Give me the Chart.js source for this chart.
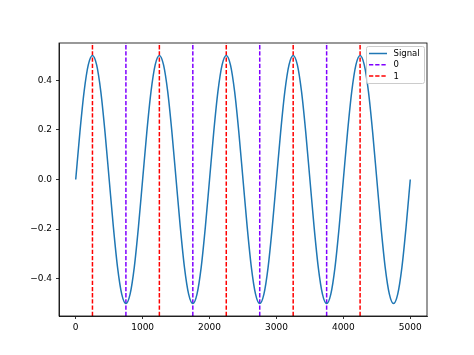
<!DOCTYPE html>
<html>
<head>
<meta charset="utf-8">
<script src="https://cdn.jsdelivr.net/npm/chart.js@4"></script>
<style>
html,body{margin:0;padding:0;background:#fff;}
#wrap{width:474px;height:355px;}
</style>
</head>
<body>
<div id="wrap"><canvas id="c" width="474" height="355"></canvas></div>
<script>
// Signal samples (x step 62.5)
const signalX = [];
for (let i = 0; i <= 80; i++) signalX.push(i * 62.5);
const signalY = [
  0, 0.191, 0.354, 0.462, 0.5, 0.462, 0.354, 0.191, 0, -0.191, -0.354, -0.462, -0.5, -0.462, -0.354, -0.191,
  0, 0.191, 0.354, 0.462, 0.5, 0.462, 0.354, 0.191, 0, -0.191, -0.354, -0.462, -0.5, -0.462, -0.354, -0.191,
  0, 0.191, 0.354, 0.462, 0.5, 0.462, 0.354, 0.191, 0, -0.191, -0.354, -0.462, -0.5, -0.462, -0.354, -0.191,
  0, 0.191, 0.354, 0.462, 0.5, 0.462, 0.354, 0.191, 0, -0.191, -0.354, -0.462, -0.5, -0.462, -0.354, -0.191,
  0, 0.191, 0.354, 0.462, 0.5, 0.462, 0.354, 0.191, 0, -0.191, -0.354, -0.462, -0.5, -0.462, -0.354, -0.191,
  0
];
const lines0 = [750, 1750, 2750, 3750];
const lines1 = [250, 1250, 2250, 3250, 4250];
const legendLabels = ['Signal', '0', '1'];
const xTicks = [0, 1000, 2000, 3000, 4000, 5000];
const yTicks = [-0.4, -0.2, 0.0, 0.2, 0.4];
const xMin = -250, xMax = 5250, yMin = -0.55, yMax = 0.55;

const colSignal = '#1f77b4', col0 = '#8000ff', col1 = '#ff0000';
const dash = [4.3, 1.9];
const FONT = '"DejaVu Sans"';
const FS = 9;
const LW = 1.5;

function vlines(xs) {
  const d = [];
  xs.forEach(x => { d.push({x: x, y: yMin}); d.push({x: x, y: yMax}); d.push({x: x, y: null}); });
  return d;
}

const frame = {
  id: 'frame',
  afterDraw(chart) {
    const {ctx, chartArea: a} = chart;
    ctx.save();
    ctx.strokeStyle = '#000';
    ctx.lineWidth = 0.8;
    ctx.strokeRect(a.left, a.top, a.right - a.left, a.bottom - a.top);
    // legend
    const bx = 366, by = 46, bw = 58, bh = 37;
    ctx.fillStyle = 'rgba(255,255,255,0.8)';
    ctx.strokeStyle = '#cccccc';
    ctx.lineWidth = 1;
    ctx.beginPath();
    if (ctx.roundRect) ctx.roundRect(bx + 0.5, by + 0.5, bw, bh, 2); else ctx.rect(bx + 0.5, by + 0.5, bw, bh);
    ctx.fill(); ctx.stroke();
    const cols = [colSignal, col0, col1];
    const dashes = [[], dash, dash];
    ctx.font = (FS - 0.5) + 'px ' + FONT;
    ctx.textBaseline = 'middle';
    legendLabels.forEach((lab, i) => {
      const y = by + 7.5 + i * 11.2;
      ctx.strokeStyle = cols[i];
      ctx.lineWidth = LW;
      ctx.setLineDash(dashes[i]);
      ctx.beginPath(); ctx.moveTo(bx + 3, y); ctx.lineTo(bx + 21, y); ctx.stroke();
      ctx.setLineDash([]);
      ctx.fillStyle = '#000';
      ctx.fillText(lab, bx + 27.5, y + 0.5);
    });
    ctx.restore();
  }
};

new Chart(document.getElementById('c'), {
  type: 'line',
  data: {
    datasets: [
      {label: legendLabels[0], data: signalX.map((x, i) => ({x: x, y: signalY[i]})), borderColor: colSignal, borderWidth: LW, pointRadius: 0, tension: 0.4, cubicInterpolationMode: 'monotone'},
      {label: legendLabels[1], data: vlines(lines0), borderColor: col0, borderWidth: LW, borderDash: dash, pointRadius: 0, spanGaps: false},
      {label: legendLabels[2], data: vlines(lines1), borderColor: col1, borderWidth: LW, borderDash: dash, pointRadius: 0, spanGaps: false}
    ]
  },
  options: {
    responsive: false,
    animation: false,
    devicePixelRatio: 1,
    layout: {padding: {left: 0, top: 43, right: 47, bottom: 0}},
    plugins: {legend: {display: false}, tooltip: {enabled: false}},
    scales: {
      x: {
        type: 'linear', min: xMin, max: xMax,
        afterBuildTicks(s) { s.ticks = xTicks.map(v => ({value: v})); },
        afterFit(s) { s.height = 39; },
        grid: {display: true, drawOnChartArea: false, drawTicks: true, tickLength: 3, color: '#000', lineWidth: 0.8},
        border: {display: true, color: '#000', width: 0.8},
        ticks: {color: '#000', font: {family: 'DejaVu Sans', size: FS}, padding: 3, maxRotation: 0,
          callback: v => String(v)}
      },
      y: {
        type: 'linear', min: yMin, max: yMax,
        afterBuildTicks(s) { s.ticks = yTicks.map(v => ({value: v})); },
        afterFit(s) { s.width = 59; },
        grid: {display: true, drawOnChartArea: false, drawTicks: true, tickLength: 3, color: '#000', lineWidth: 0.8},
        border: {display: true, color: '#000', width: 0.8},
        ticks: {color: '#000', font: {family: 'DejaVu Sans', size: FS}, padding: 4,
          callback: v => v.toFixed(1).replace('-', '\u2212')}
      }
    }
  },
  plugins: [frame]
});
</script>
</body>
</html>
